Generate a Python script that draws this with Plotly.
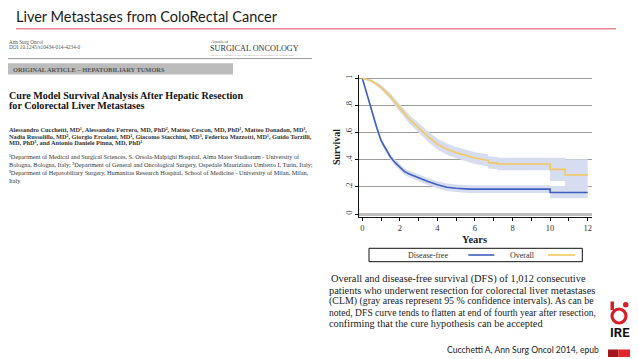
import plotly.graph_objects as go

# ---------------- data ----------------
dfs_time = [0, 0.25, 0.5, 0.75, 1.0, 1.25, 1.5, 1.75, 2.0, 2.25, 2.5, 3.0, 3.5, 4.0, 4.5, 5.0, 5.7, 5.7, 10.0, 10.0, 12.0]
dfs_surv = [1.0, 0.88, 0.76, 0.645, 0.54, 0.475, 0.42, 0.378, 0.343, 0.312, 0.295, 0.265, 0.24, 0.215, 0.197, 0.19, 0.188, 0.183, 0.183, 0.158, 0.158]
dfs_upper = [1.0, 0.893, 0.776, 0.663, 0.56, 0.496, 0.441, 0.4, 0.366, 0.336, 0.319, 0.29, 0.266, 0.242, 0.225, 0.218, 0.216, 0.211, 0.211, 0.206, 0.206]
dfs_lower = [1.0, 0.867, 0.744, 0.627, 0.52, 0.454, 0.399, 0.356, 0.32, 0.288, 0.271, 0.24, 0.214, 0.188, 0.169, 0.162, 0.16, 0.155, 0.155, 0.116, 0.116]

os_time = [0, 0.5, 1.0, 1.5, 2.0, 2.5, 3.0, 3.5, 4.0, 4.5, 5.0, 5.5, 6.0, 6.5, 6.7, 6.7, 7.2, 7.2, 10.0, 10.0, 10.8, 10.8, 12.0]
os_surv = [1.0, 0.98, 0.935, 0.865, 0.78, 0.70, 0.635, 0.57, 0.515, 0.478, 0.452, 0.43, 0.412, 0.40, 0.395, 0.38, 0.375, 0.368, 0.368, 0.329, 0.329, 0.287, 0.287]
os_upper = [1.0, 0.99, 0.952, 0.888, 0.808, 0.732, 0.670, 0.607, 0.555, 0.519, 0.494, 0.472, 0.455, 0.444, 0.44, 0.425, 0.42, 0.414, 0.414, 0.414, 0.414, 0.403, 0.403]
os_lower = [1.0, 0.97, 0.918, 0.842, 0.752, 0.668, 0.600, 0.533, 0.475, 0.437, 0.41, 0.388, 0.369, 0.356, 0.35, 0.335, 0.33, 0.322, 0.322, 0.243, 0.243, 0.19, 0.19]

y_tickvals = [0, 0.2, 0.4, 0.6, 0.8, 1.0]
y_ticktext = ["0", ".2", ".4", ".6", ".8", "1"]

series_names = ["Disease-free", "Overall"]

slide_title = "Liver Metastases from ColoRectal Cancer"
caption_lines = [
    "Overall and disease-free survival (DFS) of 1,012 consecutive",
    "patients who underwent resection for colorectal liver metastases",
    "(CLM) (gray areas represent 95 % confidence intervals). As can be",
    "noted, DFS curve tends to flatten at end of fourth year after resection,",
    "confirming that the cure hypothesis can be accepted",
]
citation = "Cucchetti A, Ann Surg Oncol 2014, epub"
article_title = ["Cure Model Survival Analysis After Hepatic Resection", "for Colorectal Liver Metastases"]
article_authors = [
    "Alessandro Cucchetti, MD¹, Alessandro Ferrero, MD, PhD², Matteo Cescon, MD, PhD¹, Matteo Donadon, MD³,",
    "Nadia Russolillo, MD², Giorgio Ercolani, MD¹, Giacomo Stacchini, MD³, Federico Mazzotti, MD¹, Guido Torzilli,",
    "MD, PhD³, and Antonio Daniele Pinna, MD, PhD¹",
]
article_affil = [
    "¹Department of Medical and Surgical Sciences, S. Orsola-Malpighi Hospital, Alma Mater Studiorum - University of",
    "Bologna, Bologna, Italy; ²Department of General and Oncological Surgery, Ospedale Mauriziano Umberto I, Turin, Italy;",
    "³Department of Hepatobiliary Surgery, Humanitas Research Hospital, School of Medicine - University of Milan, Milan,",
    "Italy",
]

# ---------------- styles ----------------
OFF = 8                      # default page margin of the html body
W, H = 638 - OFF, 359 - OFF  # figure fills the rest of the window
SERIF = "Liberation Serif, Times New Roman, serif"
SANS = "Lato, Carlito, Calibri, sans-serif"
BAND = "#d6ddf0"
BLUE = "#3f5fc0"
YELLOW = "#f4c85c"


def X(p):
    return (p - OFF) / W


def Y(p):
    return 1 - (p - OFF) / H


fig = go.Figure()

# confidence bands
fig.add_trace(go.Scatter(x=os_time, y=os_upper, mode="lines", line=dict(width=0), hoverinfo="skip"))
fig.add_trace(go.Scatter(x=os_time, y=os_lower, mode="lines", line=dict(width=0), fill="tonexty",
                         fillcolor=BAND, hoverinfo="skip"))
fig.add_trace(go.Scatter(x=dfs_time, y=dfs_upper, mode="lines", line=dict(width=0), hoverinfo="skip"))
fig.add_trace(go.Scatter(x=dfs_time, y=dfs_lower, mode="lines", line=dict(width=0), fill="tonexty",
                         fillcolor=BAND, hoverinfo="skip"))
# survival curves
fig.add_trace(go.Scatter(x=dfs_time, y=dfs_surv, mode="lines", name=series_names[0],
                         line=dict(color=BLUE, width=1.6)))
fig.add_trace(go.Scatter(x=os_time, y=os_surv, mode="lines", name=series_names[1],
                         line=dict(color=YELLOW, width=1.6)))

annotations = []


def txt(x, y, s, size, family=SERIF, color="#222", xanchor="left", angle=0, yanchor="middle"):
    annotations.append(dict(x=X(x), y=Y(y), xref="paper", yref="paper", text=s, showarrow=False,
                            xanchor=xanchor, yanchor=yanchor, textangle=angle,
                            font=dict(family=family, size=size, color=color), borderpad=0))


shapes = []


def rect(x0, y0, x1, y1, fill=None, line=None, lw=1):
    shapes.append(dict(type="rect", xref="paper", yref="paper", x0=X(x0), x1=X(x1), y0=Y(y1), y1=Y(y0),
                       fillcolor=fill if fill else "rgba(0,0,0,0)",
                       line=dict(color=line if line else "rgba(0,0,0,0)", width=lw if line else 0)))


def hline(x0, x1, y, color, lw):
    shapes.append(dict(type="line", xref="paper", yref="paper", x0=X(x0), x1=X(x1), y0=Y(y), y1=Y(y),
                       line=dict(color=color, width=lw)))


# slide title and underline
txt(15, 16.5, slide_title, 14.5, family=SANS, color="#1a1a1a")
hline(16, 616, 28.7, "#f0868f", 1.6)

# ---- article header (left) ----
txt(8, 42, "Ann Surg Oncol", 5.2, color="#555")
txt(8, 47, "DOI 10.1245/s10434-014-4234-0", 5.3, color="#555")
txt(210, 42, "Annals of", 4.4, color="#555")
txt(209.5, 49, "SURGICAL ONCOLOGY", 8.2, color="#333")
txt(210, 55, "OFFICIAL JOURNAL OF THE SOCIETY OF SURGICAL ONCOLOGY", 2.8, color="#777")
hline(8, 312, 58.6, "#9a9a9a", 1)
rect(7, 63.3, 233, 74.5, fill="#bcbcbc")
txt(11.5, 69, "<b>ORIGINAL ARTICLE – HEPATOBILIARY TUMORS</b>", 6.4, color="#555")
txt(8, 95, "<b>" + article_title[0] + "</b>", 10.1, color="#111")
txt(8, 105.5, "<b>" + article_title[1] + "</b>", 10.1, color="#111")
for i, line in enumerate(article_authors):
    txt(8, 129.5 + 6.6 * i, "<b>" + line + "</b>", 6.3, color="#333")
for i, line in enumerate(article_affil):
    txt(8, 156.7 + 7.8 * i, line, 6.25, color="#333")

# ---- chart labels ----
txt(336, 147, "<b>Survival</b>", 10, angle=-90, xanchor="center")
txt(474, 239, "<b>Years</b>", 10.5, xanchor="center")

# legend box
rect(369, 248.3, 582.3, 261.7, line="#111", lw=1)
txt(427.7, 255, series_names[0], 8, xanchor="center", color="#333")
hline(468.3, 494.3, 255, BLUE, 1.6)
txt(522, 255, series_names[1], 8, xanchor="center", color="#333")
hline(548, 575, 255, YELLOW, 1.6)

# ---- caption ----
cap_y = [279, 290, 301, 312, 323]
cap_size = [10.4, 10.4, 9.9, 9.6, 10.3]
for i, line in enumerate(caption_lines):
    txt(330 if i == 0 else 328, cap_y[i], line, cap_size[i], color="#1a1a1a")

# citation
txt(600, 349.5, citation, 8.6, family=SANS, color="#222", xanchor="right")

# ---- IRE logo ----
shapes.append(dict(type="circle", xref="paper", yref="paper", x0=X(612), x1=X(626), y0=Y(323), y1=Y(309),
                   line=dict(color="#d61f26", width=3.2), fillcolor="rgba(0,0,0,0)"))
rect(610.5, 301.5, 614, 310, fill="#d61f26")
shapes.append(dict(type="circle", xref="paper", yref="paper", x0=X(623), x1=X(628.5), y0=Y(307.5), y1=Y(302),
                   line=dict(width=0), fillcolor="#d61f26"))
txt(619.5, 332.5, "<b>IRE</b>", 13, family="Roboto, Arial, sans-serif", color="#111", xanchor="center")
rect(608, 349.5, 618.5, 357, fill="#a3171d")
rect(618.5, 349.5, 630, 357, fill="#e3262d")

fig.update_layout(
    width=W, height=H,
    margin=dict(l=0, r=0, t=0, b=0),
    paper_bgcolor="white", plot_bgcolor="white",
    showlegend=False,
    annotations=annotations,
    shapes=shapes,
    xaxis=dict(domain=[X(359), X(592)], range=[-0.176, 12.23],
               tick0=0, dtick=2, ticks="outside", ticklen=3,
               minor=dict(dtick=1, tick0=0, ticks="outside", ticklen=3, tickcolor="#111"),
               tickcolor="#111", showline=True, linecolor="#111", linewidth=1,
               showgrid=False, zeroline=False,
               tickfont=dict(family=SERIF, size=8.5, color="#333")),
    yaxis=dict(domain=[Y(217), Y(75)], range=[-0.022, 1.024],
               tickvals=y_tickvals, ticktext=y_ticktext, tickangle=-90, ticks="outside", ticklen=3,
               tickcolor="#111", showline=True, linecolor="#111", linewidth=1,
               showgrid=True, gridcolor="#9c9c9c", gridwidth=1,
               zeroline=True, zerolinecolor="#bdbdbd", zerolinewidth=2.5,
               tickfont=dict(family=SERIF, size=8.5, color="#333")),
)

fig.write_html("out.html")
